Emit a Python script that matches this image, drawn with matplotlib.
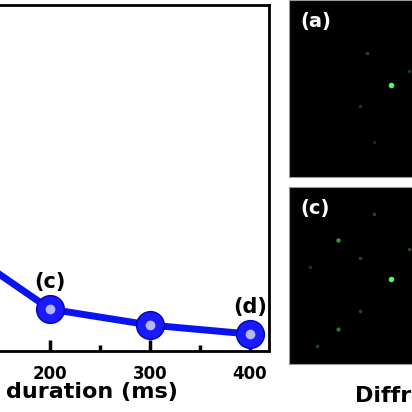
import matplotlib
matplotlib.use("Agg")
import matplotlib.pyplot as plt

duration = [100, 200, 300, 400]
signal = [32, 12.1, 7.5, 4.9]
point_labels = {200: "(c)", 400: "(d)"}

# diffraction spots (panel coords 0..1), brightness
spots_a = [(0.72, 0.52, 1.0), (0.55, 0.7, 0.3), (0.5, 0.4, 0.25), (0.85, 0.6, 0.25), (0.6, 0.2, 0.2)]
spots_c = [(0.72, 0.48, 1.0), (0.35, 0.7, 0.6), (0.5, 0.3, 0.3), (0.9, 0.45, 0.4), (0.5, 0.6, 0.3),
           (0.35, 0.2, 0.5), (0.2, 0.1, 0.3), (0.6, 0.85, 0.3), (0.85, 0.65, 0.3), (0.15, 0.55, 0.25)]

W = H = 412
fig = plt.figure(figsize=(4.12, 4.12), dpi=100)

def px(x0, y0, x1, y1):
    return [x0 / W, 1 - y1 / H, (x1 - x0) / W, (y1 - y0) / H]

ax = fig.add_axes(px(-150, 5, 269, 351))
ax.plot(duration, signal, color="#0a14ee", lw=5, zorder=2)
ax.plot(duration, signal, "o", ms=20, color="#1a1aff", mec="#0000c0", mew=1, zorder=3)
ax.plot(duration, signal, "o", ms=7, color="#c8c8ff", mec="none", alpha=0.9, zorder=4)
for x, y in zip(duration, signal):
    if x in point_labels:
        ax.text(x, y + 5, point_labels[x], ha="center", va="bottom", fontsize=15, fontweight="bold")
ax.set_xlim(0, 419)
ax.set_ylim(0, 100)
ax.set_xticks([200, 300, 400])
ax.set_xticks([250, 350], minor=True)
ax.set_yticks([])
ax.tick_params(axis="x", direction="in", length=8, width=2.5, labelsize=12, pad=10)
ax.tick_params(axis="x", which="minor", direction="in", length=4, width=2.5)
for lab in ax.get_xticklabels():
    lab.set_fontweight("bold")
for s in ax.spines.values():
    s.set_linewidth(2)
ax.set_xlabel("duration (ms)", fontsize=16, fontweight="bold", labelpad=2)
ax.xaxis.set_label_coords(0.578, -0.09)

for (y0, y1, lab, spots) in [(0, 177, "(a)", spots_a), (187, 364, "(c)", spots_c)]:
    a = fig.add_axes(px(289, y0, 430, y1))
    a.set_facecolor("black")
    a.set_xlim(0, 1)
    a.set_ylim(0, 1)
    a.set_xticks([])
    a.set_yticks([])
    for s in a.spines.values():
        s.set_color("#999999")
    for sx, sy, b in spots:
        a.plot(sx, sy, "o", ms=2 + 2 * b, color=(0.3, 1.0, 0.3, b), mec="none")
    a.text(0.08, 0.93, lab, color="white", fontsize=14, fontweight="bold", va="top", transform=a.transAxes)

fig.text(355 / W, 1 - 396 / H, "Diffr", fontsize=16, fontweight="bold", va="center")
fig.savefig("out.png", dpi=100, facecolor="white")
